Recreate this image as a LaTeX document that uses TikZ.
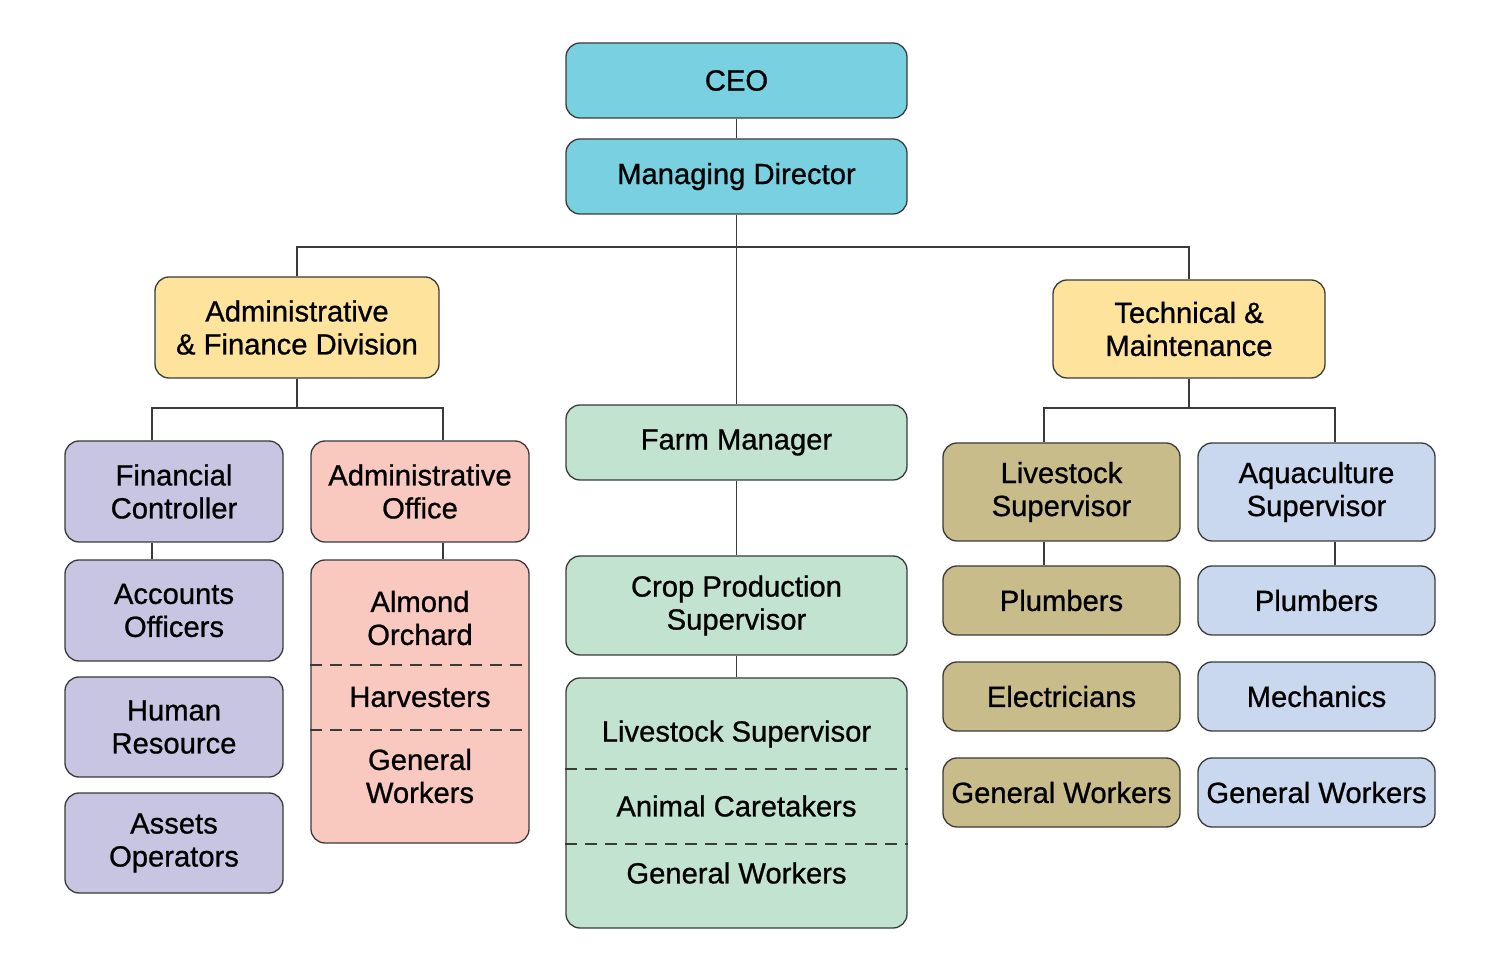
\documentclass[tikz,border=0pt]{standalone}
\usepackage{fontspec}
\setmainfont{Liberation Sans}
\newfontfamily\chartfont{Liberation Sans}[FakeBold=0.8]
\usepackage{xcolor}
\usepackage{tikz}
\usetikzlibrary{positioning, calc}
\definecolor{ceocyan}{HTML}{78D0E1}
\definecolor{divyellow}{HTML}{FDE39C}
\definecolor{finpurple}{HTML}{C8C5E2}
\definecolor{admpink}{HTML}{F9C9C0}
\definecolor{farmgreen}{HTML}{C1E3CF}
\definecolor{livolive}{HTML}{C8BC8A}
\definecolor{aqublue}{HTML}{C9D7EF}
\definecolor{linegray}{HTML}{3A3A3A}

\tikzset{
  orgbox/.style={draw=linegray, line width=0.65pt, rounded corners=7pt,
    align=center, inner sep=0pt,
    font=\chartfont\fontsize{14.6}{16.5}\selectfont},
  widebox/.style={orgbox, minimum width=170.5pt},
  sidebox/.style={orgbox, minimum width=109pt},
  techbox/.style={orgbox, minimum width=118.5pt},
  grouptext/.style={align=center, inner sep=0pt,
    font=\chartfont\fontsize{14.6}{16.5}\selectfont},
  link/.style={draw=linegray, line width=0.7pt},
  divider/.style={draw=linegray, line width=0.65pt, dash pattern=on 6pt off 4pt}
}

\begin{document}
\begin{tikzpicture}[x=0.5pt, y=-0.5pt]
  \useasboundingbox (0,0) rectangle (1500,972);

  %% Top of the chart
  \node[widebox, fill=ceocyan, minimum height=37.5pt] (ceo) at (736.5,80.5) {CEO};
  \node[widebox, fill=ceocyan, minimum height=37.5pt] (md) at (736.5,176.5) {Managing Director};

  %% Divisions
  \node[orgbox, fill=divyellow, minimum width=142pt, minimum height=50.5pt]
    (afd) at (297,327.5) {Administrative\\\& Finance Division};
  \node[orgbox, fill=divyellow, minimum width=136pt, minimum height=49pt]
    (tech) at (1189,329) {Technical \&\\Maintenance};

  %% Administrative & Finance branch
  \node[sidebox, fill=finpurple, minimum height=50.5pt] (fc) at (174,491.5) {Financial\\Controller};
  \node[sidebox, fill=finpurple, minimum height=50.5pt] (acc) at (174,610.5) {Accounts\\Officers};
  \node[sidebox, fill=finpurple, minimum height=50pt] (hr) at (174,727) {Human\\Resource};
  \node[sidebox, fill=finpurple, minimum height=50pt] (assets) at (174,843) {Assets\\Operators};
  \node[sidebox, fill=admpink, minimum height=50.5pt] (ao) at (420,491.5) {Administrative\\Office};

  %% Almond orchard group
  \node[sidebox, fill=admpink, minimum height=141.5pt] (alm) at (420,701.5) {};
  \node[grouptext] (almA) at (420,618) {Almond\\Orchard};
  \node[grouptext] (almB) at (420,697) {Harvesters};
  \node[grouptext] (almC) at (420,776) {General\\Workers};
  \draw[divider] (alm.west |- 0,665) -- (alm.east |- 0,665);
  \draw[divider] (alm.west |- 0,730) -- (alm.east |- 0,730);

  %% Farm branch
  \node[widebox, fill=farmgreen, minimum height=37.5pt] (fm) at (736.5,442.5) {Farm Manager};
  \node[widebox, fill=farmgreen, minimum height=49.5pt] (crop) at (736.5,605.5) {Crop Production\\Supervisor};
  \node[widebox, fill=farmgreen, minimum height=125pt] (lsg) at (736.5,803) {};
  \node[grouptext] (lsgA) at (736.5,734) {Livestock Supervisor};
  \node[grouptext] (lsgB) at (736.5,806) {Animal Caretakers};
  \node[grouptext] (lsgC) at (736.5,873) {General Workers};
  \draw[divider] (lsg.west |- 0,769) -- (lsg.east |- 0,769);
  \draw[divider] (lsg.west |- 0,844) -- (lsg.east |- 0,844);

  %% Technical & Maintenance branch
  \node[techbox, fill=livolive, minimum height=49pt] (lsup) at (1061.5,492) {Livestock\\Supervisor};
  \node[techbox, fill=livolive, minimum height=34.5pt] (lplumb) at (1061.5,600.5) {Plumbers};
  \node[techbox, fill=livolive, minimum height=34.5pt] (lelec) at (1061.5,696.5) {Electricians};
  \node[techbox, fill=livolive, minimum height=34.5pt] (lgen) at (1061.5,792.5) {General Workers};
  \node[techbox, fill=aqublue, minimum height=49pt] (aqsup) at (1316.5,492) {Aquaculture\\Supervisor};
  \node[techbox, fill=aqublue, minimum height=34.5pt] (aplumb) at (1316.5,600.5) {Plumbers};
  \node[techbox, fill=aqublue, minimum height=34.5pt] (amech) at (1316.5,696.5) {Mechanics};
  \node[techbox, fill=aqublue, minimum height=34.5pt] (agen) at (1316.5,792.5) {General Workers};

  %% Connectors
  \coordinate (topbus) at (736.5,247);
  \coordinate (afdbus) at (297,408);
  \coordinate (techbus) at (1189,408);
  \draw[link] (ceo.south) -- (md.north);
  \draw[link] (md.south) -- (fm.north);
  \draw[link] (afd.north) |- (topbus) -| (tech.north);

  \draw[link] (afd.south) -- (afdbus);
  \draw[link] ([xshift=-11pt]fc.north) |- (afdbus) -| ([xshift=11.5pt]ao.north);
  \draw[link] ([xshift=-11pt]fc.south) -- ([xshift=-11pt]acc.north);
  \draw[link] ([xshift=11.5pt]ao.south) -- ([xshift=11.5pt]alm.north);

  \draw[link] (fm.south) -- (crop.north);
  \draw[link] (crop.south) -- (lsg.north);

  \draw[link] (tech.south) -- (techbus);
  \draw[link] ([xshift=-8.75pt]lsup.north) |- (techbus) -| ([xshift=9.25pt]aqsup.north);
  \draw[link] ([xshift=-8.75pt]lsup.south) -- ([xshift=-8.75pt]lplumb.north);
  \draw[link] ([xshift=9.25pt]aqsup.south) -- ([xshift=9.25pt]aplumb.north);

\end{tikzpicture}
\end{document}
